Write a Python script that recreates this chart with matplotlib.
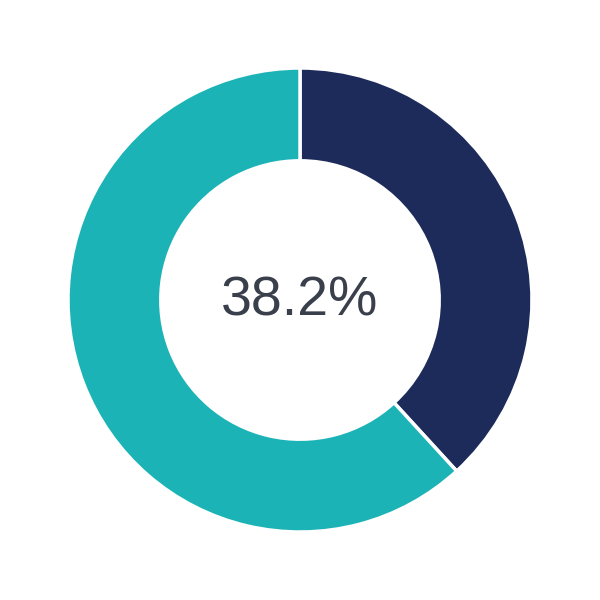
import matplotlib
matplotlib.use("Agg")
import matplotlib.pyplot as plt

labels = ["Share", "Rest"]
values = [38.2, 61.8]
colors = ["#1c2b5a", "#1bb3b6"]
center_text = "38.2%"

fig = plt.figure(figsize=(6, 6), dpi=100)
ax = fig.add_axes([0, 0, 1, 1])
ax.pie(values, colors=colors, startangle=90, counterclock=False, radius=1.0,
       wedgeprops=dict(width=0.4, edgecolor="white", linewidth=2.5))
lim = 300 / 232
ax.set_xlim(-lim, lim)
ax.set_ylim(-lim, lim)
ax.set_aspect("equal")
ax.axis("off")
ax.text(0, -0.005, center_text, ha="center", va="center", fontsize=40,
        family=["Liberation Sans", "DejaVu Sans"], color="#3a3f4c")
fig.savefig("out.png", dpi=100, facecolor="white")
